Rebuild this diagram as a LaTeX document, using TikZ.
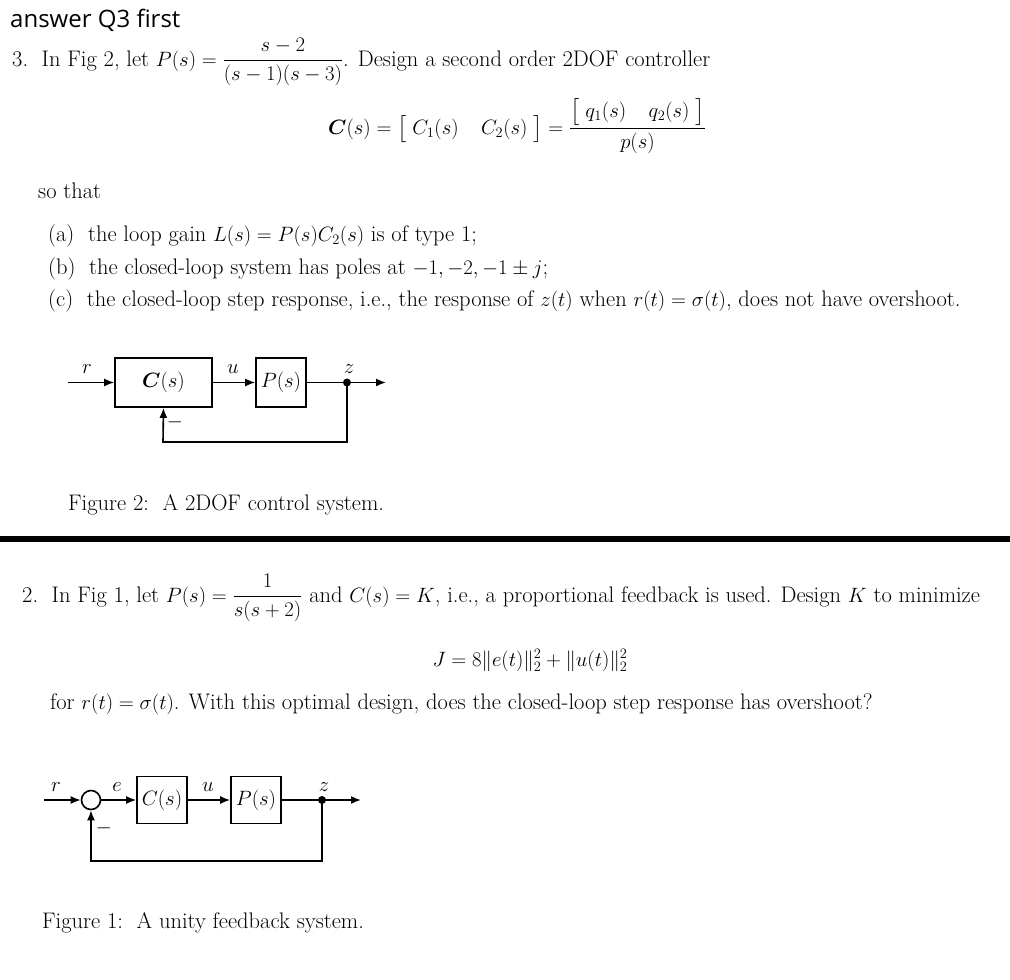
\documentclass[tikz,border=0pt]{standalone}
\usepackage{amsmath,amssymb,bm}
\usepackage{fontspec}
\newfontfamily\titlefont{Open Sans}
\usetikzlibrary{arrows.meta}
\begin{document}
\begin{tikzpicture}[x=1pt,y=-1pt,
  txt/.style={anchor=base west,inner sep=0,font=\fontsize{22.5}{26}\selectfont},
  blk/.style={draw,line width=1.6pt,inner sep=0},
  sig/.style={line width=1.6pt,-{Latex[length=10pt,width=8pt]}},
  wire/.style={line width=1.6pt},
  lab/.style={inner sep=0,font=\fontsize{20}{23}\selectfont},
  bl/.style={font=\fontsize{22}{26}\selectfont}]
\useasboundingbox (0,0) rectangle (1010,980);
\node[anchor=base west,inner sep=0,font=\titlefont\fontsize{24}{28}\selectfont] (title) at (10,27) {answer Q3 first};
\node[txt] (q3) at (12,66) {3.\ \ In Fig 2, let $P(s)=\dfrac{s-2}{(s-1)(s-3)}$. Design a second order 2DOF controller};
\node[txt,anchor=base] (ceq) at (517,134) {$\bm{C}(s)=\bigl[\;C_1(s)\quad C_2(s)\;\bigr]=\dfrac{\bigl[\;q_1(s)\quad q_2(s)\;\bigr]}{p(s)}$};
\node[txt] (so) at (38,198) {so that};
\node[txt] (a) at (48,241) {(a)\ \ the loop gain $L(s)=P(s)C_2(s)$ is of type 1;};
\node[txt] (b) at (48,274) {(b)\ \ the closed-loop system has poles at $-1,-2,-1\pm j$;};
\node[txt] (c) at (48,306) {(c)\ \ the closed-loop step response, i.e., the response of $z(t)$ when $r(t)=\sigma(t)$, does not have overshoot.};
% Fig 2
\node[blk,bl,minimum width=97pt,minimum height=49pt] (C2) at (163.5,382.5) {$\bm{C}(s)$};
\node[blk,bl,minimum width=50pt,minimum height=49pt] (P2) at (281,382.5) {$P(s)$};
\coordinate (in2) at (68,382.5);
\coordinate (z2) at (347,382.5);
\coordinate (out2) at (386,382.5);
\draw[sig] (in2) -- (C2.west);
\draw[sig] (C2.east) -- (P2.west);
\draw[wire] (P2.east) -- (z2);
\draw[sig] (z2) -- (out2);
\fill (z2) circle (4pt);
\draw[sig] (z2) |- (163,442) -- (C2.south);
\node[lab] (r2) at (87,369) {$r$};
\node[lab] (u2) at (233,369) {$u$};
\node[lab] (zl2) at (349,369) {$z$};
\node[lab] (m2) at (175,422) {$-$};
\node[txt] (f2) at (68,510) {Figure 2:\ \ A 2DOF control system.};
\fill (0,535.5) rectangle (1010,541.5);
% Section 2
\node[txt] (q2) at (22,602) {2.\ \ In Fig 1, let $P(s)=\dfrac{1}{s(s+2)}$ and $C(s)=K$, i.e., a proportional feedback is used. Design $K$ to minimize};
\node[txt,anchor=base] (J) at (530,666) {$J=8\|e(t)\|_2^2+\|u(t)\|_2^2$};
\node[txt] (for) at (50,709) {for $r(t)=\sigma(t)$. With this optimal design, does the closed-loop step response has overshoot?};
% Fig 1
\node[draw,line width=1.6pt,circle,minimum size=19pt,inner sep=0] (S) at (91,800) {};
\node[blk,bl,minimum width=50pt,minimum height=47pt] (C1) at (162,800) {$C(s)$};
\node[blk,bl,minimum width=50pt,minimum height=47pt] (P1) at (256,800) {$P(s)$};
\coordinate (in1) at (44,800);
\coordinate (z1) at (322,800);
\coordinate (out1) at (361,800);
\draw[sig] (in1) -- (S.west);
\draw[sig] (S.east) -- (C1.west);
\draw[sig] (C1.east) -- (P1.west);
\draw[wire] (P1.east) -- (z1);
\draw[sig] (z1) -- (out1);
\fill (z1) circle (4pt);
\draw[sig] (z1) |- (91,861) -- (S.south);
\node[lab] (r1) at (56,787) {$r$};
\node[lab] (e1) at (117,787) {$e$};
\node[lab] (u1) at (208,787) {$u$};
\node[lab] (zl1) at (324,787) {$z$};
\node[lab] (m1) at (104,828) {$-$};
\node[txt] (f1) at (42,928) {Figure 1:\ \ A unity feedback system.};
\end{tikzpicture}
\end{document}
